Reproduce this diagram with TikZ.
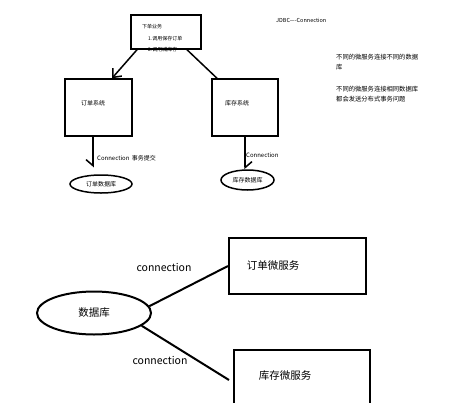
\documentclass[tikz,border=0pt]{standalone}
\usepackage{fontspec}
\setmainfont{Noto Sans CJK SC}
\usetikzlibrary{positioning, arrows.meta, shapes.geometric}

\begin{document}
\begin{tikzpicture}[x=1pt, y=-1pt,
          bx/.style={draw, line width=1.5pt, inner sep=0pt},
          db/.style={ellipse, draw, line width=1.5pt, inner sep=0pt},
          sm/.style={font=\fontsize{6}{10}\selectfont, inner sep=0pt},
          tn/.style={font=\fontsize{5}{6}\selectfont, inner sep=0pt, anchor=west},
          bg/.style={font=\fontsize{10.5}{12}\selectfont, inner sep=0pt},
          ln/.style={line width=1.5pt},
          hp/.style={line width=1.5pt, -{Straight Barb[harpoon, length=6pt, width=14pt]}}]
        \path[use as bounding box, clip] (0,0) rectangle (474,402);
        % top part
        \node[bx, minimum width=70pt, minimum height=34pt] (order) at (166,32) {};
        \node[tn] (t1) at (142,27) {下单业务};
        \node[tn] (t2) at (148,39) {1.调用保存订单};
        \node[tn] (t3) at (148,50) {2.调用减库存};
        \node[bx, minimum width=67pt, minimum height=57pt] (osys) at (98.5,107.5) {};
        \node[sm] at (93,103) {订单系统};
        \node[bx, minimum width=66pt, minimum height=57pt] (isys) at (245,107.5) {};
        \node[sm] at (237,103) {库存系统};
        \node[db, minimum width=62pt, minimum height=18pt] (odb) at (101,184) {\fontsize{6}{7}\selectfont 订单数据库};
        \node[db, minimum width=53pt, minimum height=20pt] (idb) at (247.5,180) {\fontsize{6}{7}\selectfont 库存数据库};
        \draw[ln, -{Straight Barb[length=7pt, width=12pt]}] ([xshift=-29pt]order.south) -- ([xshift=13.5pt]osys.north);
        \draw[ln] ([xshift=21pt]order.south) -- ([xshift=-28pt]isys.north);
        \draw[hp, -{Straight Barb[harpoon, swap, length=6pt, width=14pt]}] ([xshift=-5.5pt]osys.south) -- ([xshift=-8pt, yshift=7pt]odb.north);
        \draw[hp] (isys.south) -- ([xshift=-2.5pt]idb.north);
        \node[sm, anchor=west] (c1) at (97,158) {Connection\, 事务提交};
        \node[sm, anchor=west] (c2) at (246,155) {Connection};
        % notes
        \node[tn, font=\fontsize{5.5}{6}\selectfont] (jdbc) at (276,20) {JDBC----Connection};
        \node[sm, anchor=west, align=left, font=\fontsize{6.3}{10}\selectfont] (n1) at (336,62) {不同的微服务连接不同的数据\\库};
        \node[sm, anchor=west, align=left, font=\fontsize{6.3}{10}\selectfont] (n2) at (336,94) {不同的微服务连接相同数据库\\都会发送分布式事务问题};
        % bottom part
        \node[db, line width=2pt, minimum width=114pt, minimum height=43pt] (base) at (94,313) {\fontsize{10.5}{12}\selectfont 数据库};
        \node[bx, line width=2pt, minimum width=137pt, minimum height=56pt] (osvc) at (297.5,266) {};
        \node[bg] at (273,266) {订单微服务};
        \node[bx, line width=2pt, minimum width=136pt, minimum height=60pt] (isvc) at (302,380) {};
        \node[bg] at (285,376) {库存微服务};
        \draw[ln, line width=2pt] (base.7) -- (osvc.west);
        \draw[ln, line width=2pt] (base.-15) -- ([xshift=-4pt]isvc.west);
        \node[bg] (l1) at (164,267) {connection};
        \node[bg] (l2) at (160,360) {connection};
      \end{tikzpicture}
\end{document}
